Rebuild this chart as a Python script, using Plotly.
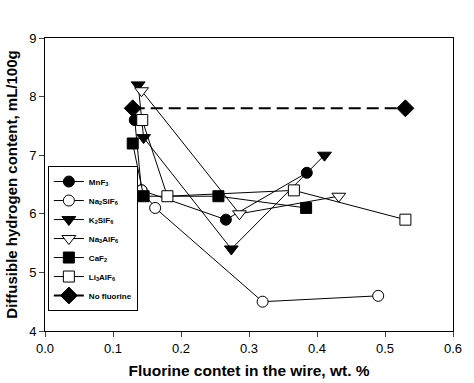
import plotly.graph_objects as go

mnf3_x = [0.132, 0.142, 0.266, 0.385]
mnf3_y = [7.6, 6.4, 5.9, 6.7]
na2sif6_x = [0.142, 0.162, 0.320, 0.490]
na2sif6_y = [6.4, 6.1, 4.5, 4.6]
k2sif6_x = [0.137, 0.145, 0.274, 0.411]
k2sif6_y = [8.2, 7.3, 5.4, 7.0]
na3alf6_x = [0.142, 0.286, 0.432]
na3alf6_y = [8.1, 6.0, 6.3]
caf2_x = [0.129, 0.145, 0.255, 0.384]
caf2_y = [7.2, 6.3, 6.3, 6.1]
li3alf6_x = [0.143, 0.180, 0.366, 0.530]
li3alf6_y = [7.6, 6.3, 6.4, 5.9]
nof_x = [0.129, 0.530]
nof_y = [7.8, 7.8]

x_ticks = [0.0, 0.1, 0.2, 0.3, 0.4, 0.5, 0.6]
y_ticks = [4, 5, 6, 7, 8, 9]

series = [
    ("MnF<sub>3</sub>", mnf3_x, mnf3_y, "circle", "black", "solid"),
    ("Na<sub>2</sub>SiF<sub>6</sub>", na2sif6_x, na2sif6_y, "circle", "white", "solid"),
    ("K<sub>2</sub>SiF<sub>6</sub>", k2sif6_x, k2sif6_y, "triangle-down", "black", "solid"),
    ("Na<sub>3</sub>AlF<sub>6</sub>", na3alf6_x, na3alf6_y, "triangle-down", "white", "solid"),
    ("CaF<sub>2</sub>", caf2_x, caf2_y, "square", "black", "solid"),
    ("Li<sub>3</sub>AlF<sub>6</sub>", li3alf6_x, li3alf6_y, "square", "white", "solid"),
    ("No fluorine", nof_x, nof_y, "diamond", "black", "dash"),
]

fig = go.Figure()
for name, xs, ys, sym, fill, dash in series:
    size = 12 if "triangle" in sym else (13 if sym == "diamond" else 11)
    fig.add_trace(go.Scatter(
        x=xs, y=ys, name=name, mode="lines+markers",
        line=dict(color="black", width=1 if dash == "solid" else 2,
                  dash="12px,6px" if dash == "dash" else "solid"),
        marker=dict(symbol=sym, size=size, color=fill, line=dict(color="black", width=1)),
    ))

fig.update_layout(
    width=474, height=383,
    margin=dict(l=45, r=21, t=38, b=52),
    plot_bgcolor="white", paper_bgcolor="white",
    font=dict(family="Liberation Sans, Arial, sans-serif", color="black"),
    showlegend=True,
    legend=dict(
        x=0.007, y=0.563, xanchor="left", yanchor="top",
        bgcolor="white", bordercolor="black", borderwidth=1,
        font=dict(size=8, family="Liberation Sans, Arial, sans-serif", weight="bold"),
        tracegroupgap=0, itemwidth=30,
    ),
    xaxis=dict(
        range=[0, 0.6], tickvals=x_ticks, ticktext=[f"{v:.1f}" for v in x_ticks],
        ticks="outside", ticklen=5, showline=True, linecolor="black", linewidth=1, mirror=True,
        showgrid=False, zeroline=False, tickfont=dict(size=13), automargin=False,
        title=dict(text="<b>Fluorine contet in the wire, wt. %</b>", font=dict(size=15.5), standoff=10),
    ),
    yaxis=dict(
        range=[4, 9], tickvals=y_ticks,
        ticks="outside", ticklen=5, showline=True, linecolor="black", linewidth=1, mirror=True,
        showgrid=False, zeroline=False, tickfont=dict(size=13), automargin=False,
        title=dict(text="<b>Diffusible hydrogen content, mL/100g</b>", font=dict(size=15), standoff=7),
    ),
)

fig.write_html("out.html", config={"displayModeBar": False},
               post_script="document.body.style.margin='0';document.body.style.overflow='hidden';")
